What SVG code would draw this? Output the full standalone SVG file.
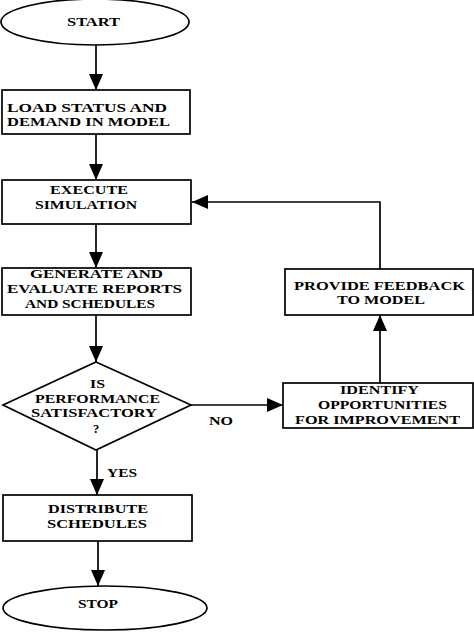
<svg xmlns="http://www.w3.org/2000/svg" width="474" height="632" viewBox="0 0 474 632">
<style>
.s{fill:#fff;stroke:#000;stroke-width:1.7}
.c{fill:none;stroke:#000;stroke-width:1.7}
text{font-family:"Liberation Serif","Times New Roman",serif;font-weight:bold;font-size:12.5px;fill:#000}
</style>
<defs>
<marker id="ah" viewBox="0 0 16 14" refX="16" refY="7" markerWidth="16" markerHeight="14" markerUnits="userSpaceOnUse" orient="auto">
<path d="M0,0 L16,7 L0,14 Z" fill="#000"/>
</marker>
</defs>
<rect width="474" height="632" fill="#fff"/>
<g id="connectors">
<line class="c" x1="96" y1="45" x2="96" y2="90" marker-end="url(#ah)"/>
<line class="c" x1="96" y1="134" x2="96" y2="180" marker-end="url(#ah)"/>
<line class="c" x1="96" y1="224" x2="96" y2="268" marker-end="url(#ah)"/>
<line class="c" x1="96" y1="315" x2="96" y2="362" marker-end="url(#ah)"/>
<line class="c" x1="97" y1="450" x2="97" y2="495" marker-end="url(#ah)"/>
<line class="c" x1="98" y1="541" x2="98" y2="586" marker-end="url(#ah)"/>
<line class="c" x1="191" y1="405" x2="283" y2="405" marker-end="url(#ah)"/>
<line class="c" x1="380" y1="383" x2="380" y2="315" marker-end="url(#ah)"/>
<polyline class="c" points="380,269 380,202 192,202" marker-end="url(#ah)"/>
<text x="209" y="425" textLength="24" lengthAdjust="spacingAndGlyphs">NO</text>
<text x="107" y="477" textLength="30" lengthAdjust="spacingAndGlyphs">YES</text>
</g>
<g id="start">
<ellipse class="s" cx="95" cy="22" rx="94" ry="23"/>
<text x="67" y="26" textLength="53" lengthAdjust="spacingAndGlyphs">START</text>
</g>
<g id="load">
<rect class="s" x="2" y="90" width="188" height="44"/>
<text x="7" y="112" textLength="160" lengthAdjust="spacingAndGlyphs">LOAD STATUS AND</text>
<text x="7" y="126" textLength="163" lengthAdjust="spacingAndGlyphs">DEMAND IN MODEL</text>
</g>
<g id="execute">
<rect class="s" x="2" y="180" width="189" height="44"/>
<text x="50" y="194" textLength="78" lengthAdjust="spacingAndGlyphs">EXECUTE</text>
<text x="35" y="209" textLength="102" lengthAdjust="spacingAndGlyphs">SIMULATION</text>
</g>
<g id="generate">
<rect class="s" x="2" y="268" width="189" height="47"/>
<text x="30" y="278" textLength="133" lengthAdjust="spacingAndGlyphs">GENERATE AND</text>
<text x="7" y="293" textLength="175" lengthAdjust="spacingAndGlyphs">EVALUATE REPORTS</text>
<text x="25" y="308" textLength="130" lengthAdjust="spacingAndGlyphs">AND SCHEDULES</text>
</g>
<g id="decision">
<polygon class="s" points="96,362 191,405 96,450 3,405"/>
<text x="90" y="388" textLength="15" lengthAdjust="spacingAndGlyphs">IS</text>
<text x="35" y="403" textLength="125" lengthAdjust="spacingAndGlyphs">PERFORMANCE</text>
<text x="31" y="417" textLength="126" lengthAdjust="spacingAndGlyphs">SATISFACTORY</text>
<text x="93" y="433">?</text>
</g>
<g id="distribute">
<rect class="s" x="3" y="495" width="189" height="46"/>
<text x="48" y="513" textLength="100" lengthAdjust="spacingAndGlyphs">DISTRIBUTE</text>
<text x="47" y="528" textLength="100" lengthAdjust="spacingAndGlyphs">SCHEDULES</text>
</g>
<g id="stop">
<ellipse class="s" cx="105" cy="608" rx="102" ry="22"/>
<text x="78" y="608" textLength="40" lengthAdjust="spacingAndGlyphs">STOP</text>
</g>
<g id="identify">
<rect class="s" x="283" y="383" width="190" height="45"/>
<text x="340" y="394" textLength="79" lengthAdjust="spacingAndGlyphs">IDENTIFY</text>
<text x="318" y="409" textLength="129" lengthAdjust="spacingAndGlyphs">OPPORTUNITIES</text>
<text x="295" y="424" textLength="165" lengthAdjust="spacingAndGlyphs">FOR IMPROVEMENT</text>
</g>
<g id="feedback">
<rect class="s" x="285" y="269" width="188" height="46"/>
<text x="294" y="290" textLength="171" lengthAdjust="spacingAndGlyphs">PROVIDE FEEDBACK</text>
<text x="337" y="304" textLength="88" lengthAdjust="spacingAndGlyphs">TO MODEL</text>
</g>
</svg>
